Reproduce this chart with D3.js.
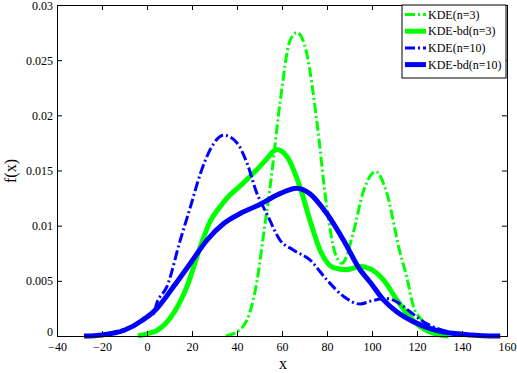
<!DOCTYPE html>
<html>
<head>
<meta charset="utf-8">
<script src="https://cdn.jsdelivr.net/npm/d3@7"></script>
<style>
  body { margin: 0; background: #fff; }
  svg { display: block; font-family: "Liberation Serif", "Times New Roman", serif; }
</style>
</head>
<body>
<div id="chart"></div>
<script>
// values
const kde3X = [35, 40.8, 45.5, 48.9, 52, 54.7, 59.1, 63.6, 66.7, 71, 75.4, 79.9, 83.6, 86.7, 91.6, 96, 101.6, 106.5, 112.4, 115.4, 118.4, 122.8, 127];
const kde3Y = [0, 0.0005, 0.002, 0.005, 0.0095, 0.0135, 0.0211, 0.0268, 0.0275, 0.0256, 0.0196, 0.0117, 0.0075, 0.0066, 0.0093, 0.013, 0.0149, 0.013, 0.0076, 0.0054, 0.0027, 0.0013, 0.0002];

const bd3X = [-4, 0, 4.4, 11.9, 17.8, 23.7, 28.1, 32.4, 36, 41.4, 48.9, 53, 57.6, 62.1, 68, 72.4, 76.9, 82.8, 88.8, 94.7, 99.1, 105, 111, 116.9, 124.3, 130, 134];
const bd3Y = [0, 0.0002, 0.0005, 0.0021, 0.0045, 0.0081, 0.0104, 0.0117, 0.0126, 0.0136, 0.0151, 0.016, 0.0169, 0.0163, 0.0135, 0.0105, 0.0078, 0.0062, 0.006, 0.0063, 0.0061, 0.0051, 0.0033, 0.0017, 0.0005, 0.0001, 0];

const kde10X = [-25, -12, -5, -1.5, 2.8, 4.4, 8.9, 14.8, 19.3, 23.7, 28.1, 34.1, 40, 44.4, 48.9, 53.2, 59.1, 65, 72.4, 79.9, 87.3, 94.7, 100, 106.5, 111, 116.9, 122.8, 131.7, 140];
const kde10Y = [0, 0.0005, 0.001, 0.0016, 0.002, 0.003, 0.0045, 0.0087, 0.0117, 0.0147, 0.0169, 0.0182, 0.0175, 0.0157, 0.0129, 0.0111, 0.0087, 0.0078, 0.0069, 0.0051, 0.0036, 0.0029, 0.0032, 0.0034, 0.0031, 0.0022, 0.0013, 0.0005, 0.0001];

const bd10X = [-28, -20, -10.4, -1.5, 4.4, 11.9, 19.3, 26.7, 34.1, 41.4, 48.9, 59.1, 66.5, 72.4, 79.9, 87.3, 94.7, 99.1, 105, 111, 118.4, 128.7, 143.6, 157];
const bd10Y = [0, 0.0001, 0.0005, 0.0015, 0.0025, 0.0045, 0.0066, 0.0087, 0.0102, 0.0111, 0.0118, 0.0129, 0.0134, 0.0129, 0.0111, 0.0087, 0.006, 0.0049, 0.0033, 0.0022, 0.0013, 0.0005, 0.0001, 0];

const seriesNames = ["KDE(n=3)", "KDE-bd(n=3)", "KDE(n=10)", "KDE-bd(n=10)"];

const xTicks = [-40, -20, 0, 20, 40, 60, 80, 100, 120, 140, 160];
const yTicks = [0, 0.005, 0.01, 0.015, 0.02, 0.025, 0.03];
const yTickLabels = ["0", "0.005", "0.01", "0.015", "0.02", "0.025", "0.03"];

const width = 517, height = 373;
const margin = {top: 5, right: 10, bottom: 37, left: 57};
const serif = "'Liberation Serif', 'Times New Roman', serif";

const svg = d3.select("#chart").append("svg")
    .attr("width", width)
    .attr("height", height);

const x = d3.scaleLinear().domain([-40, 160]).range([margin.left, width - margin.right]);
const y = d3.scaleLinear().domain([0, 0.03]).range([height - margin.bottom, margin.top]);

// curves
const styles = [
    {xs: kde3X, ys: kde3Y, color: "#00ff00", w: 3, dash: "10,3,2,3"},
    {xs: bd3X, ys: bd3Y, color: "#00ff00", w: 5, dash: null},
    {xs: kde10X, ys: kde10Y, color: "#0000ff", w: 3, dash: "10,3,2,3"},
    {xs: bd10X, ys: bd10Y, color: "#0000ff", w: 5, dash: null}
];

const line = d3.line()
    .x(d => x(d[0]))
    .y(d => y(d[1]))
    .curve(d3.curveMonotoneX);

styles.forEach(s => {
    svg.append("path")
        .datum(d3.zip(s.xs, s.ys))
        .attr("d", line)
        .attr("fill", "none")
        .attr("stroke", s.color)
        .attr("stroke-width", s.w)
        .attr("stroke-dasharray", s.dash);
});

// axes, MATLAB-style box with inward ticks
const gB = svg.append("g")
    .attr("transform", `translate(0,${y(0)})`)
    .call(d3.axisBottom(x).tickValues(xTicks).tickSize(-5).tickPadding(6));
const gL = svg.append("g")
    .attr("transform", `translate(${x(-40)},0)`)
    .call(d3.axisLeft(y).tickValues(yTicks).tickFormat((d, i) => yTickLabels[i]).tickSize(-5).tickPadding(4));
const gT = svg.append("g")
    .attr("transform", `translate(0,${y(0.03)})`)
    .call(d3.axisTop(x).tickValues(xTicks).tickSize(-5).tickFormat(""));
const gR = svg.append("g")
    .attr("transform", `translate(${x(160)},0)`)
    .call(d3.axisRight(y).tickValues(yTicks).tickSize(-5).tickFormat(""));

[gB, gL, gT, gR].forEach(g => {
    g.attr("font-family", serif).attr("font-size", 12);
    g.selectAll(".domain").attr("stroke", "#000").attr("stroke-width", 1);
    g.selectAll(".tick line").attr("stroke", "#000");
    g.selectAll(".tick text").attr("fill", "#000");
});

// nudge the corner labels like the reference
gL.selectAll(".tick text").filter(d => d === 0).attr("dy", "-0.05em");
gL.selectAll(".tick text").filter(d => d === 0.03).attr("dy", "0.4em");

svg.append("text")
    .attr("x", 283)
    .attr("y", 369)
    .attr("text-anchor", "middle")
    .style("font-size", "16px")
    .text("x");

svg.append("text")
    .attr("transform", `translate(16,171) rotate(-90)`)
    .attr("text-anchor", "middle")
    .style("font-size", "16px")
    .text("f(x)");

// legend
const lg = svg.append("g").attr("transform", "translate(402,5)");
lg.append("rect")
    .attr("width", 104)
    .attr("height", 73)
    .attr("fill", "#fff")
    .attr("stroke", "#000");

styles.forEach((s, i) => {
    const yy = 9.5 + i * 16.7;
    lg.append("line")
        .attr("x1", 3).attr("x2", 24)
        .attr("y1", yy).attr("y2", yy)
        .attr("stroke", s.color)
        .attr("stroke-width", s.w)
        .attr("stroke-dasharray", s.dash);
    lg.append("text")
        .attr("x", 26)
        .attr("y", yy + 4)
        .style("font-size", "12px")
        .text(seriesNames[i]);
});
</script>
</body>
</html>
